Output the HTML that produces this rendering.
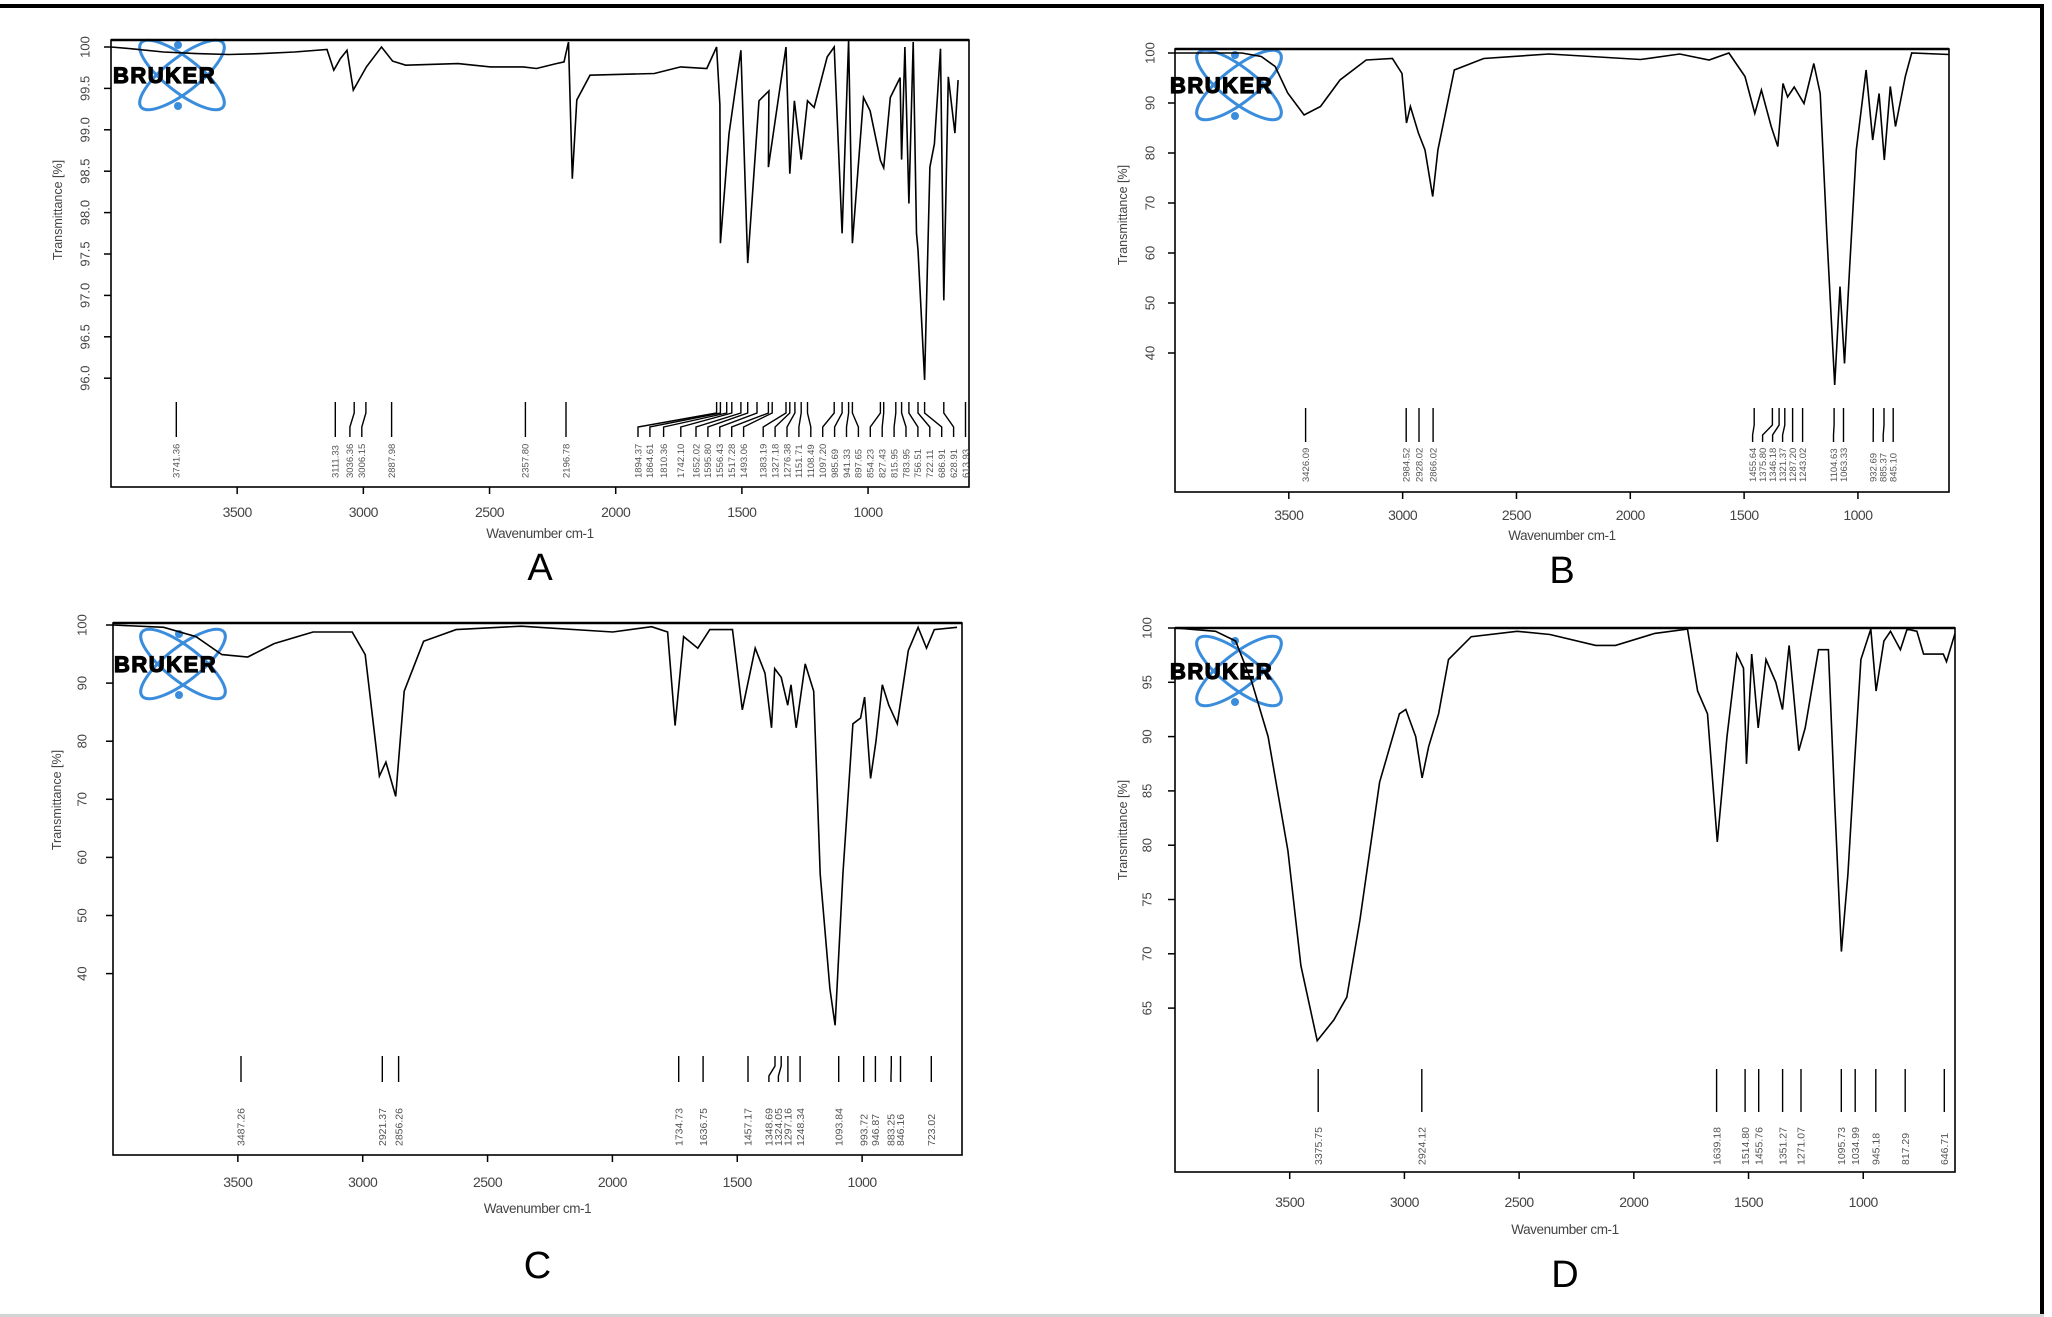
<!DOCTYPE html>
<html><head><meta charset="utf-8"><title>FTIR spectra A-D</title>
<style>
html,body{margin:0;padding:0;background:#fff;}
svg{display:block;}
text{font-family:"Liberation Sans",sans-serif;}
</style></head>
<body>
<svg id="fig" width="2052" height="1317" viewBox="0 0 2052 1317" xmlns="http://www.w3.org/2000/svg">
<rect x="0" y="0" width="2052" height="1317" fill="#fff"/>
<rect x="0" y="4" width="2044" height="4" fill="#000"/>
<rect x="2040" y="4" width="4" height="1311" fill="#000"/>
<rect x="0" y="1314" width="2044" height="3" fill="#d4d4d4"/>
</svg>
<script>
// ---------- data ----------
const aWn=[4000,3922,3792,3662,3533,3403,3273,3144,3117,3091,3065,3040,2988,2928,2884,2832,2625,2496,2366,2314,2236,2205,2187,2172,2154,2102,1847,1743,1639,1600,1587,1585,1551,1504,1477,1432,1393,1395,1351,1325,1310,1292,1265,1240,1214,1162,1134,1103,1077,1062,1018,992,951,938,912,873,867,854,838,821,808,802,776,755,737,713,700,682,656,643];
const aT=[100,99.98,99.94,99.92,99.91,99.92,99.94,99.97,99.72,99.86,99.96,99.48,99.76,100,99.83,99.78,99.8,99.76,99.76,99.74,99.8,99.82,100.06,98.41,99.36,99.66,99.68,99.76,99.74,100,99.3,97.63,98.95,99.96,97.39,99.35,99.47,98.55,99.47,100,98.47,99.35,98.64,99.35,99.27,99.88,100,97.75,100.08,97.63,99.39,99.23,98.63,98.54,99.39,99.63,98.64,100,98.11,100.06,97.75,97.55,95.98,98.55,98.83,99.98,96.94,99.64,98.96,99.6];
const aPeaks=["3741.36","3111.33","3036.36","3006.15","2887.98","2357.80","2196.78","1894.37","1864.61","1810.36","1742.10","1652.02","1595.80","1556.43","1517.28","1493.06","1383.19","1327.18","1276.38","1151.71","1108.49","1097.20","985.69","941.33","897.65","854.23","827.43","815.95","783.95","756.51","722.11","686.91","628.91","613.93"];
const aPeakTop=[3741.36,3111.33,3036.36,2990,2887.98,2357.80,2196.78,1600,1585,1560,1540,1504,1477,1440,1395,1380,1325,1310,1290,1265,1240,1134,1103,1077,1062,951,938,890,867,838,802,776,700,614];
const aTicksY=[100,99.5,99.0,98.5,98.0,97.5,97.0,96.5,96.0];
const aTickLbl=["100","99.5","99.0","98.5","98.0","97.5","97.0","96.5","96.0"];

const bWn=[4000,3707,3621,3560,3505,3433,3361,3275,3160,3045,3003,2983,2966,2931,2902,2868,2845,2773,2644,2357,1955,1783,1654,1567,1496,1453,1424,1381,1352,1329,1309,1280,1237,1194,1166,1137,1102,1079,1059,1036,1007,964,935,907,884,858,835,792,764,600];
const bT=[100,100,99.3,97.3,92,87.6,89.3,94.6,98.6,98.9,95.9,86,89.3,84,80.6,71.3,80.6,96.6,98.9,99.8,98.7,99.8,98.6,100,95.3,87.9,92.6,85.3,81.3,93.9,91.2,93.2,89.9,97.9,91.9,63.9,33.6,53.3,37.9,57.3,80.6,96.6,82.6,91.9,78.6,93.3,85.3,95.3,100,99.7];
const bPeaks=["3426.09","2984.52","2928.02","2866.02","1455.64","1375.80","1346.18","1321.37","1287.20","1243.02","1104.63","1063.33","932.69","885.37","845.10"];
const bPeakWn=[3426.09,2984.52,2928.02,2866.02,1455.64,1375.80,1346.18,1321.37,1287.20,1243.02,1104.63,1063.33,932.69,885.37,845.10];
const bTicksY=[100,90,80,70,60,50,40];

const cWn=[4000,3797,3668,3564,3460,3355,3199,3042,2990,2951,2933,2907,2868,2834,2756,2626,2366,1999,1843,1779,1749,1715,1658,1610,1519,1480,1428,1389,1363,1350,1324,1298,1285,1264,1228,1194,1168,1129,1108,1077,1037,1006,990,966,945,919,893,859,815,776,742,711,620];
const cT=[100,99.6,98,94.9,94.5,96.8,98.8,98.8,94.9,80.7,74,76.4,70.5,88.6,97.2,99.2,99.8,98.8,99.7,98.8,82.7,98,96,99.2,99.2,85.4,96,91.7,82.3,92.5,91,86.2,89.7,82.3,93.3,88.6,57.1,37.4,31.1,57.1,83,84,87.6,73.6,79.9,89.7,86.2,83,95.6,99.6,96,99.2,99.6];
const cPeaks=["3487.26","2921.37","2856.26","1734.73","1636.75","1457.17","1348.69","1324.05","1297.16","1248.34","1093.84","993.72","946.87","883.25","846.16","723.02"];
const cPeakWn=[3487.26,2921.37,2856.26,1734.73,1636.75,1457.17,1348.69,1324.05,1297.16,1248.34,1093.84,993.72,946.87,883.25,846.16,723.02];
const cTicksY=[100,90,80,70,60,50,40];

const dWn=[4000,3823,3736,3665,3594,3508,3451,3380,3308,3251,3194,3108,3022,2994,2951,2923,2894,2851,2808,2709,2509,2366,2166,2080,1909,1766,1722,1679,1636,1594,1551,1522,1509,1486,1458,1424,1381,1352,1323,1281,1253,1195,1152,1124,1095,1067,1038,1010,967,944,910,881,838,809,766,737,651,637,600];
const dT=[100,99.7,98.8,95,90,79.5,68.9,62,63.9,66,73.1,85.8,92.1,92.5,90,86.2,89.1,92.1,97.1,99.2,99.7,99.4,98.4,98.4,99.5,99.9,94.2,92.1,80.3,90,97.6,96.3,87.5,97.6,90.8,97.1,95,92.5,98.4,88.7,90.8,98,98,83.7,70.2,77.3,87.5,97.1,99.9,94.2,98.8,99.7,98,99.9,99.7,97.6,97.6,96.9,99.5];
const dPeaks=["3375.75","2924.12","1639.18","1514.80","1455.76","1351.27","1271.07","1095.73","1034.99","945.18","817.29","646.71"];
const dPeakWn=[3375.75,2924.12,1639.18,1514.80,1455.76,1351.27,1271.07,1095.73,1034.99,945.18,817.29,646.71];
const dTicksY=[100,95,90,85,80,75,70,65];

const xTicks=[3500,3000,2500,2000,1500,1000];
const xTickLbl=["3500","3000","2500","2000","1500","1000"];
const panelLetters=["A","B","C","D"];

// ---------- drawing ----------
const NS="http://www.w3.org/2000/svg";
const svg=document.getElementById('fig');
function mk(tag,attrs,parent){const e=document.createElementNS(NS,tag);for(const k in attrs)e.setAttribute(k,attrs[k]);(parent||svg).appendChild(e);return e;}

function drawPanel(cfg){
  const g=mk('g',{});
  
  
  const X=wn=>cfg.L+(4000-wn)/3400*(cfg.R-cfg.L);
  const Y=t=>cfg.y100+(100-t)*cfg.ppu;
  const cid='clip'+cfg.letter;
  const cp=mk('clipPath',{id:cid},g);
  mk('rect',{x:cfg.L,y:cfg.T,width:cfg.R-cfg.L,height:cfg.B-cfg.T},cp);
  // logo
  const lg=mk('g',{},g);
  
  
  const cx=cfg.logo[0],cy=cfg.logo[1];
  mk('ellipse',{cx:cx,cy:cy,rx:52,ry:17,transform:`rotate(38 ${cx} ${cy})`,fill:'none',stroke:'#3a8ddc','stroke-width':3},lg);
  mk('ellipse',{cx:cx,cy:cy,rx:52,ry:17,transform:`rotate(-38 ${cx} ${cy})`,fill:'none',stroke:'#3a8ddc','stroke-width':3},lg);
  mk('circle',{cx:cx-4,cy:cy-30,r:4,fill:'#3a8ddc'},lg);
  mk('circle',{cx:cx-4,cy:cy+31,r:4,fill:'#3a8ddc'},lg);
  const lt=mk('text',{x:cx-69,y:cy+8,'font-size':22,'font-weight':'900','letter-spacing':'1.5',fill:'#000',stroke:'#000','stroke-width':1.2},lg);
  lt.textContent='BRUKER';
  // curve
  let d='';
  cfg.wn.forEach((w,i)=>{d+=(i?'L':'M')+X(w).toFixed(1)+' '+Y(cfg.t[i]).toFixed(1);});
  const p=mk('path',{d:d,fill:'none',stroke:'#000','stroke-width':1.6,'clip-path':`url(#${cid})`},g);
  
  
  const fr=mk('rect',{x:cfg.L,y:cfg.T,width:cfg.R-cfg.L,height:cfg.B-cfg.T,fill:'none',stroke:'#000','stroke-width':1.6},g);
  
  
  mk('line',{x1:cfg.L,y1:cfg.T,x2:cfg.R,y2:cfg.T,stroke:'#000','stroke-width':2.5},g);
  cfg.ty.forEach((v,i)=>{
    const y=Y(v);
    mk('line',{x1:cfg.L-7,y1:y,x2:cfg.L,y2:y,stroke:'#000','stroke-width':1.5},g);
    const t=mk('text',{x:cfg.ylx,y:y,'font-size':13,fill:'#444','text-anchor':'middle',transform:`rotate(-90 ${cfg.ylx} ${y})`,dy:'0.35em'},g);
    
    
    t.textContent=cfg.tyl?cfg.tyl[i]:String(v);
  });
  const yt=mk('text',{x:cfg.ytx,y:cfg.ytY,'font-size':12.5,fill:'#444','text-anchor':'middle',transform:`rotate(-90 ${cfg.ytx} ${cfg.ytY})`},g);
  
  
  yt.textContent='Transmittance [%]';
  xTicks.forEach((v,i)=>{
    const x=X(v);
    mk('line',{x1:x,y1:cfg.B,x2:x,y2:cfg.B+7,stroke:'#000','stroke-width':1.5},g);
    const t=mk('text',{x:x,y:cfg.xly,'font-size':14,fill:'#444','text-anchor':'middle','letter-spacing':'-0.5'},g);
    
    
    t.textContent=xTickLbl[i];
  });
  const xt=mk('text',{x:(cfg.L+cfg.R)/2,y:cfg.xty,'font-size':13.5,fill:'#444','text-anchor':'middle','letter-spacing':'-0.4'},g);
  
  
  xt.textContent='Wavenumber cm-1';
  const pl=mk('text',{x:(cfg.L+cfg.R)/2,y:cfg.lety,'font-size':38,fill:'#000','text-anchor':'middle'},g);
  
  
  pl.textContent=cfg.letter;
  const n=cfg.peaks.length;
  const pos=cfg.peakTop.map(w=>X(w));
  const lab=cfg.peaks.map(s=>X(parseFloat(s)));
  for(let i=n-2;i>=0;i--){ if(lab[i]>lab[i+1]-cfg.gap) lab[i]=lab[i+1]-cfg.gap; }
  for(let i=0;i<n;i++){
    const top=pos[Math.min(i,pos.length-1)];
    const pg=mk('path',{d:`M${top.toFixed(1)} ${cfg.pk[0]}L${top.toFixed(1)} ${cfg.pk[1]}L${lab[i].toFixed(1)} ${cfg.pk[2]}L${lab[i].toFixed(1)} ${cfg.pk[3]}`,fill:'none',stroke:'#000','stroke-width':1.4},g);
    
    
    const t=mk('text',{x:lab[i],y:cfg.pk[4],'font-size':cfg.pfs,fill:'#555',transform:`rotate(-90 ${lab[i]} ${cfg.pk[4]})`,dy:'0.35em'},g);
    
    
    t.textContent=cfg.peaks[i];
  }
}

drawPanel({letter:panelLetters[0],L:111,R:969,T:40,B:487,y100:47,ppu:82.8,wn:aWn,t:aT,ty:aTicksY,tyl:aTickLbl,
  ylx:85,ytx:62,ytY:210,xly:517,xty:538,lety:580,logo:[182,75],
  peaks:aPeaks,peakTop:aPeakTop,gap:11.9,pk:[402,413,427,437,478],pfs:9.5});
drawPanel({letter:panelLetters[1],L:1175,R:1949,T:49,B:492,y100:53,ppu:5,wn:bWn,t:bT,ty:bTicksY,
  ylx:1150,ytx:1127,ytY:215,xly:520,xty:540,lety:583,logo:[1239,85],
  peaks:bPeaks,peakTop:bPeakWn,gap:10,pk:[408,425,435,442,482],pfs:9.5});
drawPanel({letter:panelLetters[2],L:113,R:962,T:623,B:1155,y100:625,ppu:5.81,wn:cWn,t:cT,ty:cTicksY,
  ylx:82,ytx:61,ytY:800,xly:1187,xty:1213,lety:1278,logo:[183,664],
  peaks:cPeaks,peakTop:cPeakWn,gap:9.5,pk:[1056,1066,1076,1082,1146],pfs:10.5});
drawPanel({letter:panelLetters[3],L:1175,R:1955,T:628,B:1172,y100:628,ppu:10.86,wn:dWn,t:dT,ty:dTicksY,
  ylx:1147,ytx:1127,ytY:830,xly:1207,xty:1234,lety:1287,logo:[1239,671],
  peaks:dPeaks,peakTop:dPeakWn,gap:10,pk:[1069,1090,1100,1112,1165],pfs:10.5});
</script>
</body></html>
